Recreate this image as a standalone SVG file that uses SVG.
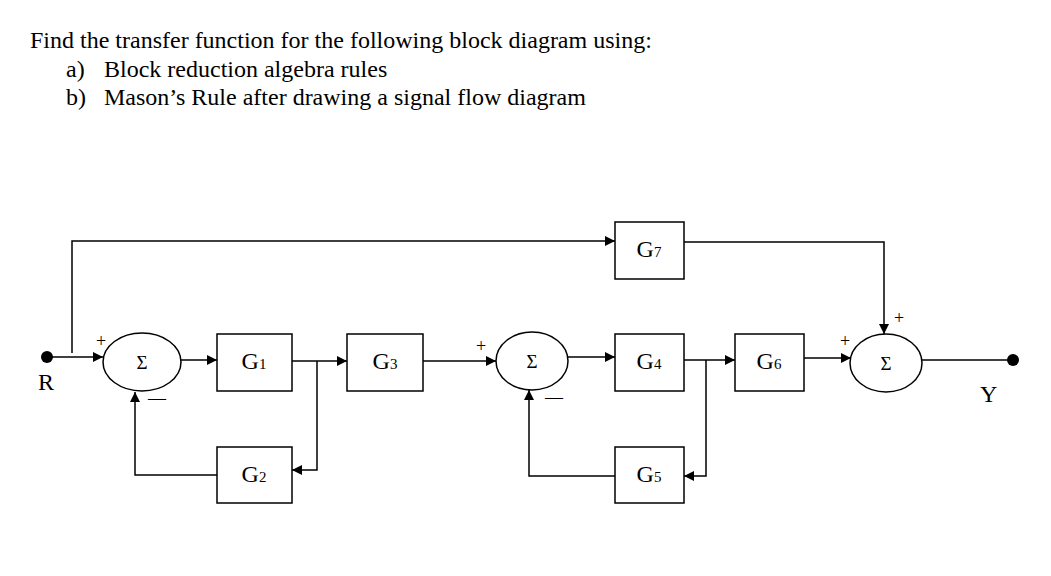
<svg xmlns="http://www.w3.org/2000/svg" width="1051" height="576" viewBox="0 0 1051 576">
<style>
text{font-family:"Liberation Serif","Times New Roman",serif;fill:#000}
.t{font-size:24px}
.g{font-size:24px;text-anchor:middle}
.s{font-size:15px}
.sg{font-size:19px;text-anchor:middle}
.pm{font-size:18px;text-anchor:middle}
.b{fill:#fff;stroke:#000;stroke-width:1.5}
.w{fill:none;stroke:#000;stroke-width:1.5}
</style>
<defs><marker id="a" viewBox="0 0 10 10" refX="10" refY="5" markerWidth="10" markerHeight="10" markerUnits="userSpaceOnUse" orient="auto"><path d="M0,0L10,5L0,10z"/></marker></defs>
<rect width="1051" height="576" fill="#fff"/>
<text class="t" x="30" y="48">Find the transfer function for the following block diagram using:</text>
<text class="t" x="66" y="77">a)</text><text class="t" x="104" y="77">Block reduction algebra rules</text>
<text class="t" x="66" y="105">b)</text><text class="t" x="104" y="105">Mason’s Rule after drawing a signal flow diagram</text>
<g id="connectors" class="w">
<path d="M47,357H103" marker-end="url(#a)"/>
<path d="M72,353V241H615" marker-end="url(#a)"/>
<path d="M181,360H217" marker-end="url(#a)"/>
<path d="M292,361H347" marker-end="url(#a)"/>
<path d="M317,361V470H292" marker-end="url(#a)"/>
<path d="M217,475H135V392" marker-end="url(#a)"/>
<path d="M423,361H496" marker-end="url(#a)"/>
<path d="M568,357H615" marker-end="url(#a)"/>
<path d="M684,360H735" marker-end="url(#a)"/>
<path d="M706,360V476H684" marker-end="url(#a)"/>
<path d="M615,476H529V390" marker-end="url(#a)"/>
<path d="M804,358H851" marker-end="url(#a)"/>
<path d="M684,242H884V334" marker-end="url(#a)"/>
<path d="M922,360H1013"/>
</g>
<circle cx="47" cy="357" r="6"/>
<circle cx="1013" cy="360" r="6"/>
<text class="t" x="38" y="390">R</text>
<text class="t" x="980" y="402">Y</text>
<g id="sum1"><ellipse class="b" cx="142" cy="362" rx="39" ry="29"/><text class="sg" x="142" y="369">Σ</text><text class="pm" x="101" y="347">+</text><text class="pm" x="157" y="404">—</text></g>
<g id="sum2"><ellipse class="b" cx="532" cy="361" rx="36" ry="29"/><text class="sg" x="532" y="368">Σ</text><text class="pm" x="481" y="352">+</text><text class="pm" x="554" y="403">—</text></g>
<g id="sum3"><ellipse class="b" cx="886" cy="363" rx="36" ry="29"/><text class="sg" x="886" y="370">Σ</text><text class="pm" x="845" y="347">+</text><text class="pm" x="899" y="324">+</text></g>
<g id="G1"><rect class="b" x="217" y="334" width="75" height="57"/><text class="g" x="254" y="369">G<tspan class="s">1</tspan></text></g>
<g id="G2"><rect class="b" x="217" y="447" width="75" height="56"/><text class="g" x="254" y="482">G<tspan class="s">2</tspan></text></g>
<g id="G3"><rect class="b" x="347" y="334" width="76" height="57"/><text class="g" x="385" y="369">G<tspan class="s">3</tspan></text></g>
<g id="G7"><rect class="b" x="615" y="222" width="69" height="57"/><text class="g" x="649" y="257">G<tspan class="s">7</tspan></text></g>
<g id="G4"><rect class="b" x="615" y="334" width="69" height="57"/><text class="g" x="649" y="369">G<tspan class="s">4</tspan></text></g>
<g id="G5"><rect class="b" x="615" y="447" width="69" height="56"/><text class="g" x="649" y="482">G<tspan class="s">5</tspan></text></g>
<g id="G6"><rect class="b" x="735" y="334" width="69" height="57"/><text class="g" x="769" y="369">G<tspan class="s">6</tspan></text></g>
</svg>
